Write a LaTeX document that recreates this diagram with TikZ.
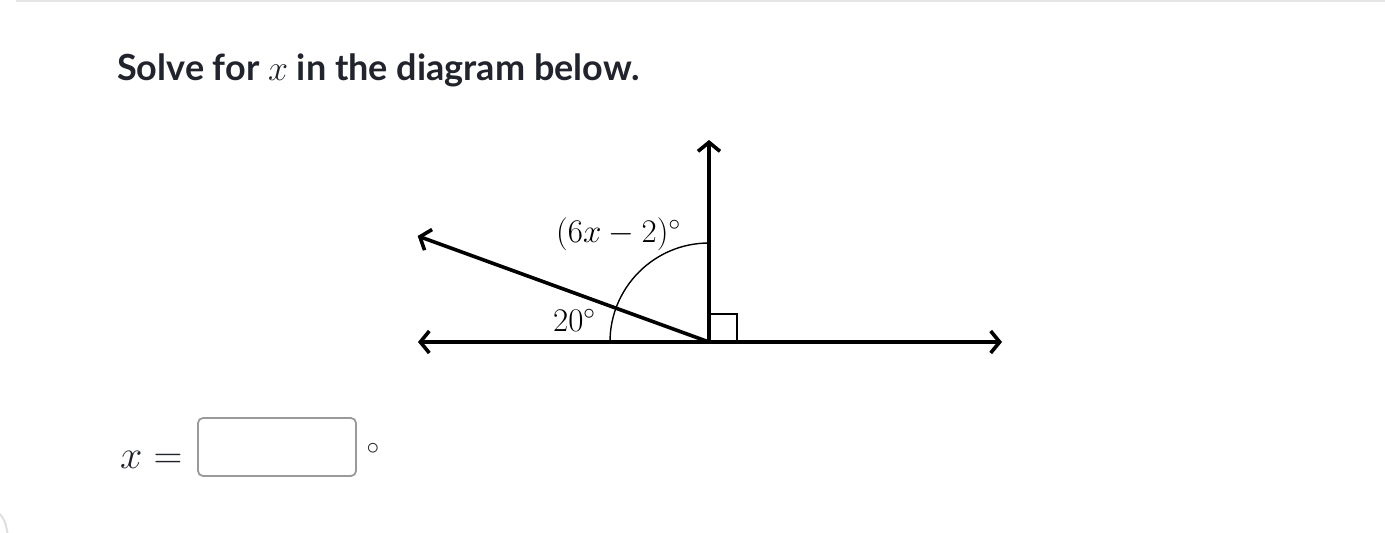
\RequirePackage{fix-cm}
\documentclass[tikz,border=0pt]{standalone}
\usepackage{fontspec}
\newfontfamily\latofont{Lato}
\usetikzlibrary{arrows.meta,calc}
\definecolor{inkdark}{HTML}{21242C}
\definecolor{boxgray}{HTML}{9A9A9A}
\tikzset{
  barb/.tip={Straight Barb[length=9pt,width=22pt]},
  ray/.style={line width=3.6pt,-barb},
  thinline/.style={line width=1.4pt},
  mathlabel/.style={inner sep=0pt,anchor=base west,font=\fontsize{33}{38}\selectfont},
  answerbox/.style={draw=boxgray,line width=1.8pt,rounded corners=5pt,minimum width=158pt,minimum height=58pt,inner sep=0pt}
}
\begin{document}
\begin{tikzpicture}[x=1pt,y=-1pt]
                \useasboundingbox (0,0) rectangle (1385,533);
                \draw[gray!20,line width=1.5pt] (16,0.75)--(1385,0.75);
                \draw[gray!25,line width=2pt] (0,514) .. controls (5,521) .. (8,535);
                \node[inner sep=0pt,anchor=base west,text=inkdark,font=\latofont\bfseries\fontsize{36}{42}\selectfont] (title) at (117,80) {Solve for $x$ in the diagram below.};
                \coordinate (O) at (709,342);
                \coordinate (W) at (418,342);
                \coordinate (E) at (1002,342);
                \coordinate (N) at (709,140);
                \coordinate (S) at ($(O)+(200:310)$);
                \draw[ray,barb-barb] (W)--(E);
                \draw[ray] (O)--(N);
                \draw[ray] (O)--(S);
                \draw[thinline] ($(O)+(-99,0)$) arc[start angle=180,end angle=270,radius=99];
                \draw[thinline] (709,314)--(737,314)--(737,342);
                \node[mathlabel] (sixx) at (556,242) {$(6x-2)^\circ$};
                \node[mathlabel] (twenty) at (553,331) {$20^\circ$};
                \node[inner sep=0pt,anchor=base west,text=inkdark,font=\fontsize{40}{44}\selectfont] (xeq) at (120,468) {$x=$};
                \node[answerbox] (ans) at (277,447) {};
                \node[inner sep=0pt,text=gray!30!black,font=\fontsize{36}{40}\selectfont] (deg) at (373,449) {$\scriptstyle\circ$};
\end{tikzpicture}
\end{document}
